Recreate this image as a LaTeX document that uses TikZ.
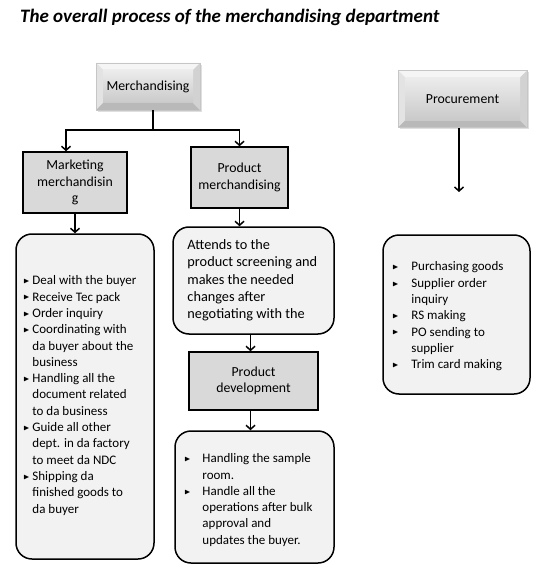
\documentclass[tikz,border=0pt]{standalone}
\usepackage{fontspec}
\setmainfont{Carlito}
\usepackage{amssymb}
\usetikzlibrary{arrows.meta,shadows}

% small triangle bullet and hanging indent
\newcommand{\bul}[1]{\makebox[#1][l]{\raisebox{1.2pt}{\scalebox{0.62}{$\blacktriangleright$}}}}
\newcommand{\cont}[1]{\hspace*{#1}}

\tikzset{
  line/.style={line width=1.5pt},
  arr/.style={line width=1.5pt, -{Straight Barb[length=4pt,width=9pt]}},
  graybox/.style={draw, line width=1.5pt, fill=gray!30, align=center,
    font=\fontsize{13.8}{16.3}\selectfont},
  listbox/.style={draw, line width=1.5pt, fill=gray!10, rounded corners=16pt},
  listtext/.style={align=left, inner sep=0pt, font=\fontsize{13}{16.3}\selectfont},
  bevelbox/.style={draw=gray!45, line width=0.6pt, font=\fontsize{13.8}{16.3}\selectfont,
    drop shadow={opacity=0.25, shadow xshift=2pt, shadow yshift=-2pt},
    path picture={
      \fill[gray!8] (path picture bounding box.north west) -- (path picture bounding box.north east)
        -- ([shift={(-7pt,-7pt)}]path picture bounding box.north east)
        -- ([shift={(7pt,-7pt)}]path picture bounding box.north west) -- cycle;
      \fill[gray!22] (path picture bounding box.north west)
        -- ([shift={(7pt,-7pt)}]path picture bounding box.north west)
        -- ([shift={(7pt,7pt)}]path picture bounding box.south west)
        -- (path picture bounding box.south west) -- cycle;
      \fill[gray!55] (path picture bounding box.south west) -- (path picture bounding box.south east)
        -- ([shift={(-7pt,7pt)}]path picture bounding box.south east)
        -- ([shift={(7pt,7pt)}]path picture bounding box.south west) -- cycle;
      \fill[gray!35] (path picture bounding box.north east) -- (path picture bounding box.south east)
        -- ([shift={(-7pt,7pt)}]path picture bounding box.south east)
        -- ([shift={(-7pt,-7pt)}]path picture bounding box.north east) -- cycle;
      \shade[top color=gray!15, bottom color=gray!42]
        ([shift={(7pt,-7pt)}]path picture bounding box.north west)
        rectangle ([shift={(-7pt,7pt)}]path picture bounding box.south east);
    }}
}

\begin{document}
\begin{tikzpicture}[x=1pt, y=-1pt]
  \fill[white] (0,0) rectangle (557,572);
  \useasboundingbox (0,0) rectangle (557,572);

  \node[anchor=base west, inner sep=0pt, font=\fontsize{19}{23}\selectfont\bfseries\itshape]
    (title) at (20,23) {The overall process of the merchandising department};

  % top level
  \node[bevelbox, minimum width=104pt, minimum height=47pt] (merch) at (148,86.5) {Merchandising};
  \node[bevelbox, minimum width=129pt, minimum height=57pt] (proc) at (462.5,99) {Procurement};

  % second level
  \node[graybox, minimum width=104pt, minimum height=61pt] (mkt) at (75,182.5)
    {Marketing\\merchandisin\\g};
  \node[graybox, minimum width=97pt, minimum height=61pt] (prodm) at (239.5,177.5)
    {Product\\merchandising};

  % lists
  \node[listbox, minimum width=138pt, minimum height=325pt] (mktlist) at (85,396.5) {};
  \node[listtext, anchor=west, yshift=1pt] (mkttxt) at ([xshift=8pt]mktlist.west)
    {\bul{9pt}Deal with the buyer\\
     \bul{9pt}Receive Tec pack\\
     \bul{9pt}Order inquiry\\
     \bul{9pt}Coordinating with\\
     \cont{9pt}da buyer about the\\
     \cont{9pt}business\\
     \bul{9pt}Handling all the\\
     \cont{9pt}document related\\
     \cont{9pt}to da business\\
     \bul{9pt}Guide all other\\
     \cont{9pt}dept. in da factory\\
     \cont{9pt}to meet da NDC\\
     \bul{9pt}Shipping da\\
     \cont{9pt}finished goods to\\
     \cont{9pt}da buyer};

  \node[listbox, minimum width=161pt, minimum height=107pt] (plist) at (253.5,280.5) {};
  \node[listtext, anchor=west, font=\fontsize{14.3}{17.3}\selectfont] (ptxt) at ([xshift=15pt]plist.west)
    {Attends to the\\
     product screening and\\
     makes the needed\\
     changes after\\
     negotiating with the};

  \node[graybox, minimum width=129pt, minimum height=58pt] (pdev) at (253.5,381)
    {Product\\development};

  \node[listbox, minimum width=159pt, minimum height=132pt] (dlist) at (254.5,497) {};
  \node[listtext, anchor=west, yshift=-3pt] (dtxt) at ([xshift=10pt]dlist.west)
    {\bul{18pt}Handling the sample\\
     \cont{18pt}room.\\
     \bul{18pt}Handle all the\\
     \cont{18pt}operations after bulk\\
     \cont{18pt}approval and\\
     \cont{18pt}updates the buyer.};

  \node[listbox, minimum width=147pt, minimum height=159pt] (plist2) at (456.5,314.5) {};
  \node[listtext, anchor=west, yshift=-2pt] (ptxt2) at ([xshift=10pt]plist2.west)
    {\bul{19pt}Purchasing goods\\
     \bul{19pt}Supplier order\\
     \cont{19pt}inquiry\\
     \bul{19pt}RS making\\
     \bul{19pt}PO sending to\\
     \cont{19pt}supplier\\
     \bul{19pt}Trim card making};

  % connectors
  \coordinate (split) at (153,130);
  \draw[line] (merch.south -| split) -- (split);
  \draw[arr] (split) -| ([xshift=-9pt]mkt.north);
  \draw[arr] (split) -| (prodm.north);
  \draw[arr] (mkt.south) -- (mkt.south |- mktlist.north);
  \draw[arr] (prodm.south) -- (prodm.south |- plist.north);
  \draw[arr] ([xshift=-3pt]plist.south) -- ([xshift=-3pt]pdev.north);
  \draw[arr] ([xshift=-3pt]pdev.south) -- ([xshift=-3pt]pdev.south |- dlist.north);
  \coordinate (procend) at (459,192);
  \draw[arr] (proc.south -| procend) -- (procend);
\end{tikzpicture}
\end{document}
